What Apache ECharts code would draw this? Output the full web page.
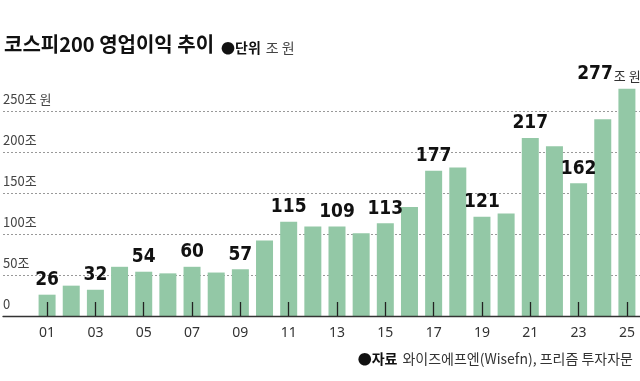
<!DOCTYPE html>
<html><head><meta charset="utf-8">
<script src="https://cdn.jsdelivr.net/npm/echarts@6/dist/echarts.min.js"></script>
<style>html,body{margin:0;padding:0;background:#fff}#c{width:640px;height:381px}</style>
</head><body><div id="c"></div>
<script>
const years = ['01','02','03','04','05','06','07','08','09','10','11','12','13','14','15','16','17','18','19','20','21','22','23','24','25'];
const profits = [26,37,32,60,54,52,60,53,57,92,115,109,109,101,113,133,177,181,121,125,217,207,162,240,277];
const labeled = [true,false,true,false,true,false,true,false,true,false,true,false,true,false,true,false,true,false,true,false,true,false,true,false,true];
const yTicks = [0,50,100,150,200,250];
const yTickLabels = ['0','50조','100조','150조','200조','250조 원'];
const titleText = '코스피200 영업이익 추이';
const unitLabel = '●단위';
const unitText = '조 원';
const sourceLabel = '●자료';
const sourceText = '와이즈에프엔(Wisefn), 프리즘 투자자문';

const KR = '"Noto Sans CJK KR", "Noto Sans", sans-serif';
const NUM = '"DejaVu Sans Condensed", "DejaVu Sans", sans-serif';
const chart = echarts.init(document.getElementById('c'), null, {renderer:'canvas'});
const last = profits.length - 1;
chart.setOption({
  backgroundColor:'#fff',
  animation:false,
  title:[
    {text:titleText, left:-1, top:29, textStyle:{fontFamily:KR, fontSize:20, fontWeight:'bold', color:'#111'}},
    {text:'{b|'+unitLabel+'} {n|'+unitText+'}', left:216, top:34, textStyle:{fontWeight:'normal', rich:{
      b:{fontFamily:KR, fontSize:14, fontWeight:'bold', color:'#111'},
      n:{fontFamily:KR, fontSize:14, fontWeight:'normal', color:'#444'}}}},
    {text:'{b|'+sourceLabel+'} {n|'+sourceText+'}', right:2, top:345, textStyle:{fontWeight:'normal', rich:{
      b:{fontFamily:KR, fontSize:14, fontWeight:'bold', color:'#111'},
      n:{fontFamily:KR, fontSize:14, fontWeight:'normal', color:'#333'}}}}
  ],
  grid:[
    {left:35, right:1, top:70, bottom:65},
    {left:0, right:0, top:111, bottom:65}
  ],
  xAxis:[
    {type:'category', gridIndex:0, data:years, z:5,
      axisLine:{show:false},
      axisTick:{show:true, inside:true, length:14, interval:1, alignWithLabel:true, lineStyle:{color:'#222', width:1.3}},
      axisLabel:{interval:1, margin:10, fontFamily:'"Noto Sans", sans-serif', fontSize:14, color:'#333'}},
    {type:'value', gridIndex:1, min:0, max:1, z:4,
      axisLine:{show:true, onZero:false, lineStyle:{color:'#333', width:1.3}},
      axisTick:{show:false}, axisLabel:{show:false}, splitLine:{show:false}}
  ],
  yAxis:[
    {type:'value', gridIndex:0, min:0, max:300, interval:50, show:false, splitLine:{show:false}},
    {type:'value', gridIndex:1, min:0, max:250, interval:50,
      axisLine:{show:false}, axisTick:{show:false},
      axisLabel:{inside:true, margin:0, verticalAlign:'bottom', padding:[0,0,5,0],
        fontFamily:KR, fontSize:13, color:'#444',
        formatter:v=>yTickLabels[yTicks.indexOf(v)]},
      splitLine:{show:true, lineStyle:{color:'#999', type:[2,2], width:1}}}
  ],
  series:[{
    type:'bar', xAxisIndex:0, yAxisIndex:0, barWidth:17, z:3,
    itemStyle:{color:'#93c8a6'},
    data:profits.map((v,i)=>({value:v, label:{show:labeled[i],
      offset: i===last ? [-18,0] : [0,0],
      formatter: i===last ? '{n|{c}}{u|조 원}' : '{n|{c}}'}})),
    label:{position:'top', distance:5, rich:{
      n:{fontFamily:NUM, fontSize:19, color:'#111', fontWeight:'bold'},
      u:{fontFamily:KR, fontSize:13, color:'#333', fontWeight:'normal', padding:[3,0,0,1]}}}
  }]
});
</script></body></html>
